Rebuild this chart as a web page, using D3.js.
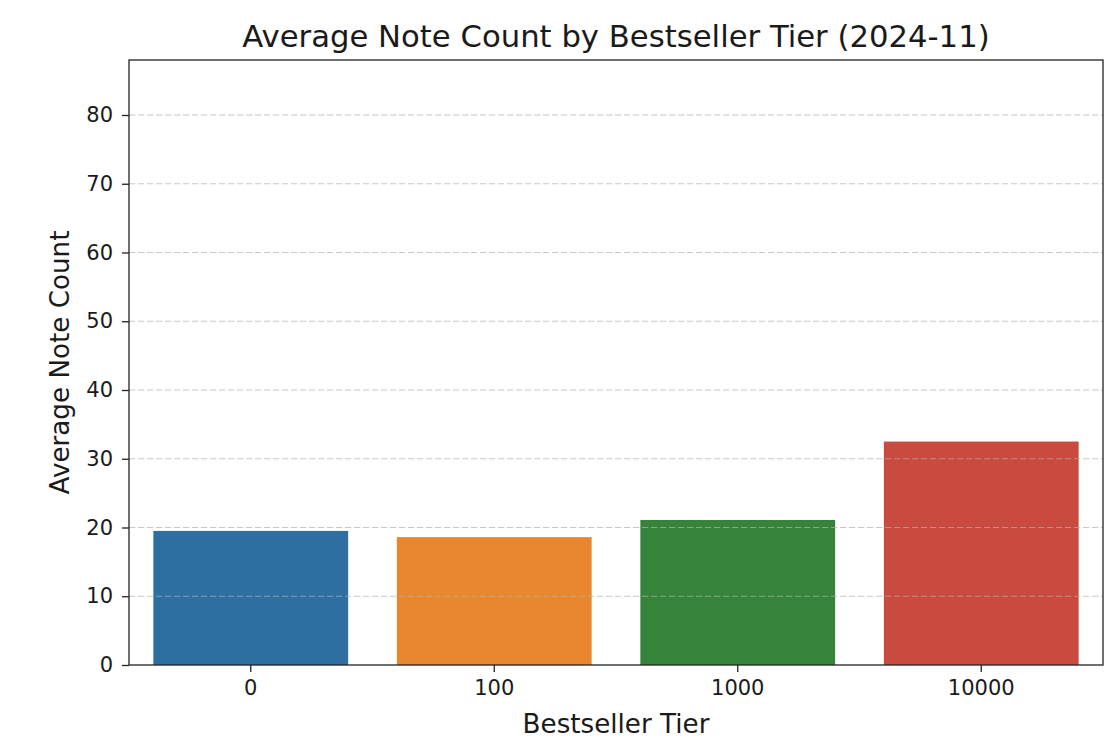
<!DOCTYPE html>
<html>
<head>
<meta charset="utf-8">
<script src="https://cdn.jsdelivr.net/npm/d3@7"></script>
<style>
  html, body { margin: 0; padding: 0; background: #fff; }
  text { font-family: "DejaVu Sans", sans-serif; fill: #1a1a1a; }
</style>
</head>
<body>
<div id="chart"></div>
<script>
// data
const tiers = ["0", "100", "1000", "10000"];
const avgNotes = [19.5, 18.6, 21.1, 32.5];
const barColors = ["#2d6fa1", "#e8872e", "#35843a", "#c94a3e"];
const yTicks = [0, 10, 20, 30, 40, 50, 60, 70, 80];

const W = 1118, H = 748;
const margin = { top: 60, right: 15, bottom: 83, left: 129 };
const width = W - margin.left - margin.right;
const height = H - margin.top - margin.bottom;

const svg = d3.select("#chart")
  .append("svg")
  .attr("width", W)
  .attr("height", H);

const g = svg.append("g")
  .attr("transform", `translate(${margin.left},${margin.top})`);

const x = d3.scaleBand()
  .domain(tiers)
  .range([0, width])
  .paddingInner(0.2)
  .paddingOuter(0.1);

const y = d3.scaleLinear()
  .domain([0, 88])
  .range([height, 0]);

// bars
g.append("g")
  .selectAll("rect")
  .data(tiers)
  .enter()
  .append("rect")
  .attr("x", d => x(d))
  .attr("y", (d, i) => y(avgNotes[i]))
  .attr("width", x.bandwidth())
  .attr("height", (d, i) => height - y(avgNotes[i]))
  .style("fill", (d, i) => barColors[i]);

// dashed grid, drawn over the bars
g.append("g")
  .selectAll("line")
  .data(yTicks.filter(t => t > 0))
  .enter()
  .append("line")
  .attr("x1", 0)
  .attr("x2", width)
  .attr("y1", d => y(d))
  .attr("y2", d => y(d))
  .style("stroke", "#b0b0b0")
  .style("stroke-opacity", 0.7)
  .style("stroke-width", 1.2)
  .style("stroke-dasharray", "6.3,2.7");

// axes
const xAxis = g.append("g")
  .attr("transform", `translate(0,${height})`)
  .call(d3.axisBottom(x).tickSize(7).tickPadding(8));

const yAxis = g.append("g")
  .call(d3.axisLeft(y).tickValues(yTicks).tickSize(7).tickPadding(9));

[xAxis, yAxis].forEach(a => {
  a.select(".domain").remove();
  a.selectAll(".tick line").style("stroke", "#222").style("stroke-width", 1.3);
  a.selectAll(".tick text")
    .style("font-family", "DejaVu Sans")
    .style("font-size", "21px")
    .style("fill", "#1a1a1a");
});

// frame
g.append("rect")
  .attr("x", 0)
  .attr("y", 0)
  .attr("width", width)
  .attr("height", height)
  .style("fill", "none")
  .style("stroke", "#222")
  .style("stroke-width", 1.3);

// title and labels
svg.append("text")
  .attr("x", margin.left + width / 2)
  .attr("y", 47)
  .attr("text-anchor", "middle")
  .style("font-size", "30.7px")
  .text("Average Note Count by Bestseller Tier (2024-11)");

svg.append("text")
  .attr("x", margin.left + width / 2)
  .attr("y", 733)
  .attr("text-anchor", "middle")
  .style("font-size", "26.2px")
  .text("Bestseller Tier");

svg.append("text")
  .attr("transform", `translate(69,${margin.top + height / 2}) rotate(-90)`)
  .attr("text-anchor", "middle")
  .style("font-size", "26.2px")
  .text("Average Note Count");
</script>
</body>
</html>
